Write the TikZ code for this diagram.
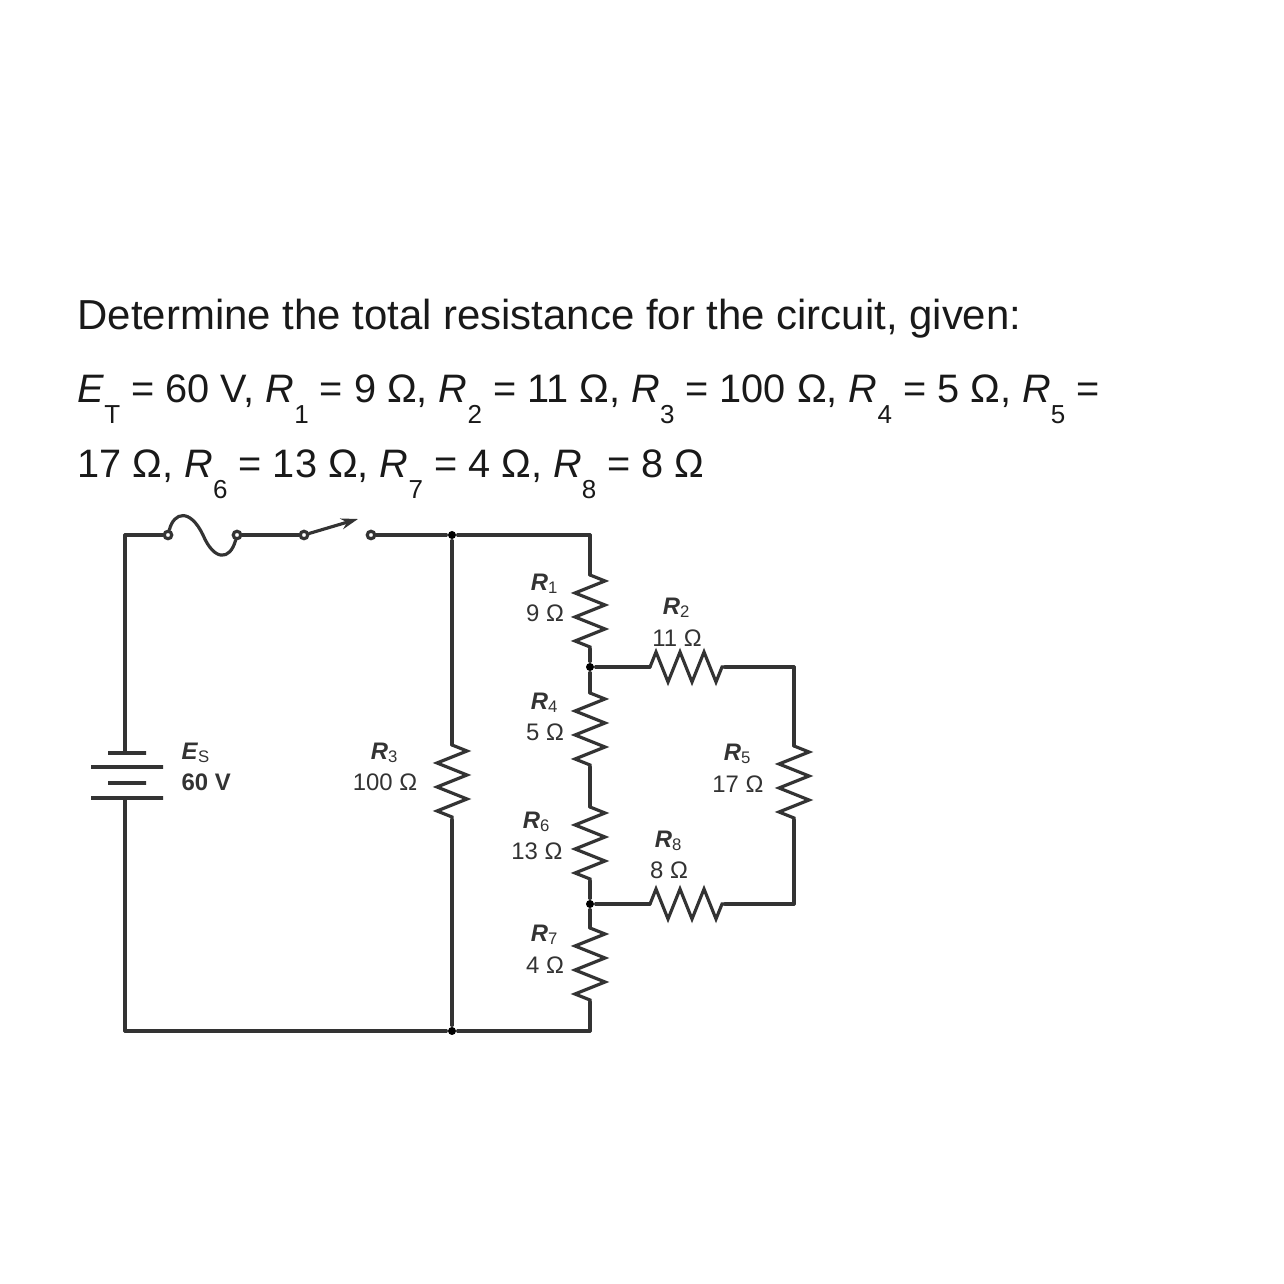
\documentclass[tikz,border=0pt]{standalone}
\usepackage{fontspec}
\setmainfont{Liberation Sans}
\usetikzlibrary{arrows.meta,decorations.pathmorphing}
\definecolor{wirecol}{gray}{0.2}
\definecolor{textcol}{gray}{0.1}
\newcommand{\Eq}[2]{\textit{#1}\raisebox{-5.7pt}{\fontsize{7.4}{8}\selectfont #2}}
\newcommand{\Lab}[2]{\textit{\textbf{#1}}\textsubscript{#2}}

\begin{document}
\begin{tikzpicture}[line width=.9pt,draw=wirecol,line cap=round]
	\tikzstyle{para} = [anchor=base west,inner sep=0,text=textcol,font=\fontsize{11.93}{14}\selectfont]
	\tikzstyle{eqn} = [anchor=base west,inner sep=0,text=textcol,font=\fontsize{11.3}{14}\selectfont]
	\tikzstyle{lab} = [align=center,inner sep=0,text=wirecol,font=\fontsize{6.8}{9}\selectfont]
	\tikzstyle{term} = [circle,draw,fill=white,inner sep=0,minimum size=.075cm]
	\tikzstyle{dot} = [circle,fill=black,inner sep=0,minimum size=.08cm]
	\tikzstyle{longplate} = [draw,inner sep=0,minimum width=.72cm,minimum height=0]
	\tikzstyle{shortplate} = [draw,inner sep=0,minimum width=.38cm,minimum height=0]
	\tikzstyle{res} = [decorate,decoration={zigzag,segment length=.24cm,amplitude=.15cm}]

	\useasboundingbox (0,0) rectangle (12.84,12.84);

	\node[para] (line1) at (.76,9.54) {Determine the total resistance for the circuit, given:};
	\node[eqn] (line2) at (.76,8.81) {\Eq{E}{T} = 60 V, \Eq{R}{1} = 9 Ω, \Eq{R}{2} = 11 Ω, \Eq{R}{3} = 100 Ω, \Eq{R}{4} = 5 Ω, \Eq{R}{5} =};
	\node[eqn] (line3) at (.76,8.06) {17 Ω, \Eq{R}{6} = 13 Ω, \Eq{R}{7} = 4 Ω, \Eq{R}{8} = 8 Ω};

	% top wire
	\coordinate (tl) at (1.25,7.49);
	\coordinate (bl) at (1.25,2.53);
	\coordinate (tr) at (5.90,7.49);
	\coordinate (br) at (5.90,2.53);
	\node[dot] (jt) at (4.52,7.49) {};
	\node[dot] (jb) at (4.52,2.53) {};
	\node[term] (fa) at (1.68,7.49) {};
	\node[term] (fb) at (2.37,7.49) {};
	\node[term] (sa) at (3.04,7.49) {};
	\node[term] (sb) at (3.71,7.49) {};
	\coordinate (fm) at (2.03,7.49);
	\coordinate (tip) at (3.58,7.65);

	% battery
	\node[shortplate] (p1) at (1.27,5.31) {};
	\node[longplate] (p2) at (1.27,5.17) {};
	\node[shortplate] (p3) at (1.27,5.01) {};
	\node[longplate] (p4) at (1.27,4.86) {};
	\coordinate (pt) at (1.25,5.31);
	\coordinate (pb) at (1.25,4.86);

	% resistor ends
	\coordinate (r3a) at (4.52,5.39);
	\coordinate (r3b) at (4.52,4.64);
	\coordinate (r1a) at (5.90,7.09);
	\coordinate (r1b) at (5.90,6.35);
	\node[dot] (j1) at (5.90,6.17) {};
	\coordinate (r4a) at (5.90,5.91);
	\coordinate (r4b) at (5.90,5.17);
	\coordinate (r6a) at (5.90,4.77);
	\coordinate (r6b) at (5.90,4.03);
	\node[dot] (j2) at (5.90,3.80) {};
	\coordinate (r7a) at (5.90,3.56);
	\coordinate (r7b) at (5.90,2.82);
	\coordinate (r2a) at (6.50,6.17);
	\coordinate (r2b) at (7.25,6.17);
	\coordinate (r8a) at (6.50,3.80);
	\coordinate (r8b) at (7.25,3.80);
	\coordinate (c1) at (7.94,6.17);
	\coordinate (c2) at (7.94,3.80);
	\coordinate (r5a) at (7.94,5.38);
	\coordinate (r5b) at (7.94,4.64);

	\path (pt) edge (tl);
	\path (tl) edge (fa);
	\draw (fa) .. controls (1.74,7.72) and (1.90,7.76) .. (fm) .. controls (2.14,7.23) and (2.30,7.23) .. (fb);
	\path (fb) edge (sa);
	\path (sa) edge[-{Stealth[length=.17cm,width=.11cm]}] (tip);
	\path (sb) edge (jt);
	\path (jt) edge (tr);
	\path (tr) edge (r1a);
	\path (r1a) edge[res] (r1b);
	\path (r1b) edge (j1);
	\path (j1) edge (r4a);
	\path (r4a) edge[res] (r4b);
	\path (r4b) edge (r6a);
	\path (r6a) edge[res] (r6b);
	\path (r6b) edge (j2);
	\path (j2) edge (r7a);
	\path (r7a) edge[res] (r7b);
	\path (r7b) edge (br);
	\path (br) edge (jb);
	\path (jb) edge (bl);
	\path (bl) edge (pb);
	\path (jt) edge (r3a);
	\path (r3a) edge[res] (r3b);
	\path (r3b) edge (jb);
	\path (j1) edge (r2a);
	\path (r2a) edge[res] (r2b);
	\path (r2b) edge (c1);
	\path (c1) edge (r5a);
	\path (r5a) edge[res] (r5b);
	\path (r5b) edge (c2);
	\path (c2) edge (r8b);
	\path (r8a) edge[res] (r8b);
	\path (j2) edge (r8a);

	% labels
	\node[lab,align=left,anchor=west] (es) at (1.80,5.17) {\Lab{E}{S}\\\textbf{60 V}};
	\node[lab] (l3) at (3.85,5.17) {\Lab{R}{3}\\100 Ω};
	\node[lab] (l1) at (5.45,6.86) {\Lab{R}{1}\\9 Ω};
	\node[lab] (l2) at (6.77,6.62) {\Lab{R}{2}\\11 Ω};
	\node[lab] (l4) at (5.45,5.67) {\Lab{R}{4}\\5 Ω};
	\node[lab] (l5) at (7.38,5.16) {\Lab{R}{5}\\17 Ω};
	\node[lab] (l6) at (5.37,4.48) {\Lab{R}{6}\\13 Ω};
	\node[lab] (l7) at (5.45,3.35) {\Lab{R}{7}\\4 Ω};
	\node[lab] (l8) at (6.69,4.29) {\Lab{R}{8}\\8 Ω};
\end{tikzpicture}
\end{document}
